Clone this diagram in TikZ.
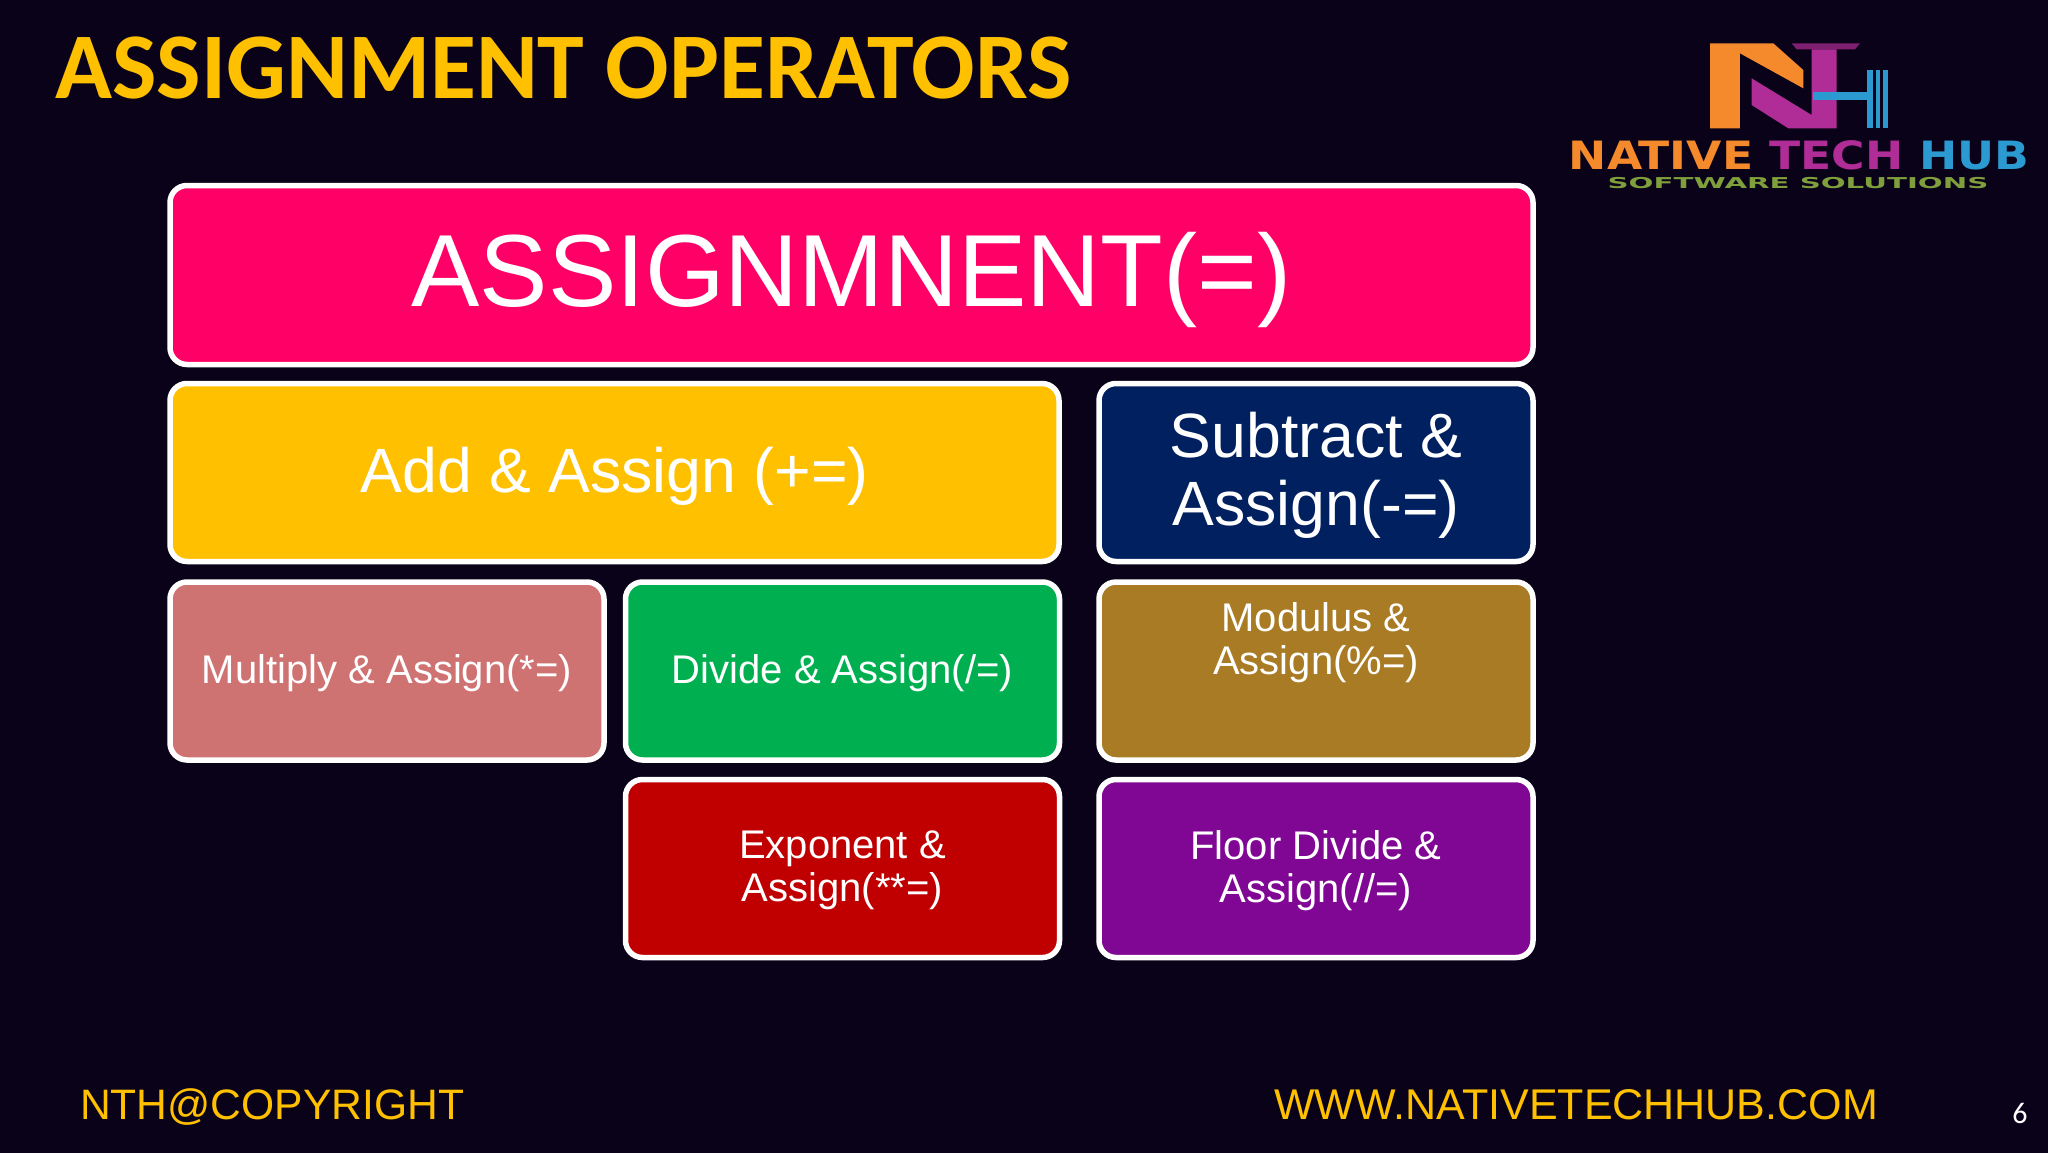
\documentclass[tikz,border=0pt]{standalone}
\usepackage{fontspec}
\setmainfont{Liberation Sans}
\newfontfamily\titlefont{Carlito}
\newfontfamily\logofont{DejaVu Sans}
\definecolor{slidebg}{HTML}{0A0219}
\definecolor{gold}{HTML}{FFC000}
\definecolor{hotpink}{HTML}{FF0066}
\definecolor{navy}{HTML}{002060}
\definecolor{dustyrose}{HTML}{CF7272}
\definecolor{leafgreen}{HTML}{00B050}
\definecolor{ochre}{HTML}{A87B24}
\definecolor{darkred}{HTML}{C00000}
\definecolor{violet}{HTML}{7F0793}
\definecolor{logoorange}{HTML}{F58A2C}
\definecolor{logopurple}{HTML}{B02C96}
\definecolor{logoblue}{HTML}{2A9AD0}
\definecolor{logogreen}{HTML}{7F9E3C}
\tikzset{
  opbox/.style={draw=white,line width=5.5pt,rounded corners=17pt},
  optext/.style={text=white,align=center,inner sep=0pt},
  bigtext/.style={optext,font=\fontsize{62.6}{68}\selectfont},
  smalltext/.style={optext,font=\fontsize{40}{43}\selectfont},
  widebox/.style={minimum width=889pt,minimum height=178pt},
  narrowbox/.style={minimum width=434pt,minimum height=178pt},
  footer/.style={text=gold,inner sep=0pt}
}
\begin{document}
\begin{tikzpicture}[x=1pt,y=-1pt]
\useasboundingbox (0,0) rectangle (2048,1152);
\fill [slidebg] (-3,-3) rectangle (2051,1155);
\node (title) [anchor=west,inner sep=0pt,text=gold,font=\titlefont\bfseries\fontsize{94}{100}\selectfont] at (55,68) {ASSIGNMENT OPERATORS};
% boxes
\node (assign) [opbox,fill=hotpink,minimum width=1363pt,minimum height=179pt] at (851.5,275) {};
\node (add) [opbox,widebox,fill=gold] at (614.5,472.5) {};
\node (sub) [opbox,narrowbox,fill=navy] at (1316,472.5) {};
\node (mul) [opbox,narrowbox,fill=dustyrose] at (387,671) {};
\node (div) [opbox,narrowbox,fill=leafgreen] at (842.5,671) {};
\node (mod) [opbox,narrowbox,fill=ochre] at (1316,671) {};
\node (exp) [opbox,narrowbox,fill=darkred] at (842.5,868.5) {};
\node (floor) [opbox,narrowbox,fill=violet] at (1316,868.5) {};
% box texts
\node (assigntext) [optext,font=\fontsize{102.5}{110}\selectfont] at (851.5,280) {ASSIGNMNENT(=)};
\node (addtext) [bigtext] at (614.5,476) {Add \& Assign (+=)};
\node (subtext) [bigtext] at (1316,475) {Subtract \&\\Assign(-=)};
\node (multext) [smalltext] at (387,673) {Multiply \& Assign(*=)};
\node (divtext) [smalltext] at (842.5,673) {Divide \& Assign(/=)};
\node (modtext) [smalltext] at (1316,643) {Modulus \&\\Assign(\%=)};
\node (exptext) [smalltext] at (842.5,870.5) {Exponent \&\\Assign(**=)};
\node (floortext) [smalltext] at (1316,870.5) {Floor Divide \&\\Assign(//=)};
% logo
\begin{scope}[shift={(1540,20)},x=0.3333pt,y=-0.3333pt]
\fill [logoorange] (510,70) -- (700,70) -- (790,150) -- (790,205) -- (600,100) -- (600,325) -- (510,325) -- cycle;
\fill [logopurple!70!slidebg] (755,70) -- (960,70) -- (945,88) -- (770,88) -- cycle;
\fill [logopurple] (635,175) -- (815,285) -- (815,88) -- (890,88) -- (890,325) -- (745,325) -- (635,255) -- cycle;
\fill [logoblue] (820,215) rectangle (980,240);
\fill [logoblue] (980,150) rectangle (1000,325);
\fill [logoblue] (1007,150) rectangle (1020,325);
\fill [logoblue] (1030,150) rectangle (1045,325);
\end{scope}
\node (logoname) [inner sep=0pt,xscale=1.17,font=\logofont\bfseries\fontsize{39}{44}\selectfont] at (1799,155) {\textcolor{logoorange}{NATIVE} \textcolor{logopurple}{TECH} \textcolor{logoblue}{HUB}};
\node (logosub) [inner sep=0pt,xscale=1.95,text=logogreen,font=\logofont\bfseries\fontsize{15}{18}\selectfont] at (1798,183) {SOFTWARE SOLUTIONS};
% footer
\node (copy) [footer,anchor=base west,font=\fontsize{42.6}{48}\selectfont] at (80,1119) {NTH@COPYRIGHT};
\node (site) [footer,anchor=base east,font=\fontsize{43}{48}\selectfont] at (1878,1119) {WWW.NATIVETECHHUB.COM};
\node (page) [inner sep=0pt,text=white,font=\titlefont\fontsize{30}{34}\selectfont] at (2020,1113) {6};
\end{tikzpicture}
\end{document}
